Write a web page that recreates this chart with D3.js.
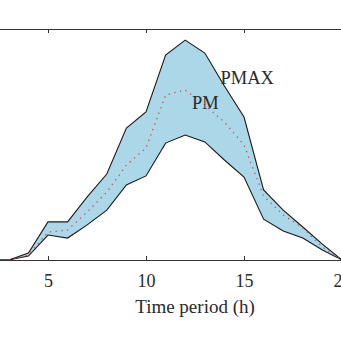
<!DOCTYPE html>
<html>
<head>
<meta charset="utf-8">
<script src="https://cdn.jsdelivr.net/npm/d3@7"></script>
<style>
html,body{margin:0;padding:0;background:#fff;}
svg{display:block;}
text{font-family:"Liberation Serif","Times New Roman",serif;fill:#2a2a2a;}
</style>
</head>
<body>
<svg id="chart" width="341" height="341"></svg>
<script>
const hours = [1,2,3,4,5,6,7,8,9,10,11,12,13,14,15,16,17,18,19,20,21,22,23,24];
const pmax  = [0,0,0,3.0,16.5,16.5,27.3,37.2,57.1,64.1,88.7,95.2,89.6,75.3,61.9,30.3,21.6,14.3,6.9,0,0,0,0,0];
const pmin  = [0,0,0,1.7,10.8,9.5,15.2,21.6,32.5,36.4,50.6,54.1,51.1,43.3,35.9,17.7,12.6,9.5,4.3,0,0,0,0,0];
const pm    = [0,0,0,2.2,12.1,13.0,20.8,29.4,41.1,48.5,71.4,73.6,67.1,59.7,49.8,27.7,19.5,13.9,5.6,0,0,0,0,0];
const xTicks = [5,10,15,20];
const xLabel = "Time period (h)";
const labels = [{text:"PMAX", h:13.8, v:76}, {text:"PM", h:12.35, v:65.5}];

const svg = d3.select("#chart");
const x = d3.scaleLinear().domain([1,24]).range([-30.4, 420.4]);
const y = d3.scaleLinear().domain([0,100]).range([260, 29]);

const data = hours.map((h,i)=>({h, hi:pmax[i], lo:pmin[i], m:pm[i]}));

// band
svg.append("path").datum(data)
  .attr("d", d3.area().x(d=>x(d.h)).y0(d=>y(d.lo)).y1(d=>y(d.hi)))
  .attr("fill","#abd7e8").attr("stroke","none");

// upper and lower lines
svg.append("path").datum(data)
  .attr("d", d3.line().x(d=>x(d.h)).y(d=>y(d.hi)))
  .attr("fill","none").attr("stroke","#1a1a1a").attr("stroke-width",1.1);
svg.append("path").datum(data)
  .attr("d", d3.line().x(d=>x(d.h)).y(d=>y(d.lo)))
  .attr("fill","none").attr("stroke","#1a1a1a").attr("stroke-width",1.1);

// PM dotted
svg.append("path").datum(data.filter(d=>d.h>=3 && d.h<=20))
  .attr("d", d3.line().x(d=>x(d.h)).y(d=>y(d.m)))
  .attr("fill","none").attr("stroke","#c8504a").attr("stroke-width",1.3)
  .attr("stroke-dasharray","1.3,4.5");

// bottom axis
const gB = svg.append("g").attr("transform",`translate(0,${y(0)})`)
  .call(d3.axisBottom(x).tickValues(xTicks).tickSize(-4).tickSizeOuter(0).tickPadding(14));
gB.select(".domain").attr("stroke","#333");
gB.selectAll(".tick line").attr("stroke","#333");
gB.selectAll("text").attr("font-size","18px").attr("fill","#2a2a2a")
  .attr("font-family","Liberation Serif, serif");

// top axis
const gT = svg.append("g").attr("transform",`translate(0,${y(100)})`)
  .call(d3.axisTop(x).tickValues(xTicks).tickSize(-4).tickSizeOuter(0).tickFormat(""));
gT.select(".domain").attr("stroke","#333");
gT.selectAll(".tick line").attr("stroke","#333");

// x label
svg.append("text").attr("x", x(12.5)).attr("y", 313)
  .attr("text-anchor","middle").attr("font-size","19px").text(xLabel);

// series labels
labels.forEach(l=>{
  svg.append("text").attr("x", x(l.h)).attr("y", y(l.v))
    .attr("font-size","18.5px").text(l.text);
});
</script>
</body>
</html>
